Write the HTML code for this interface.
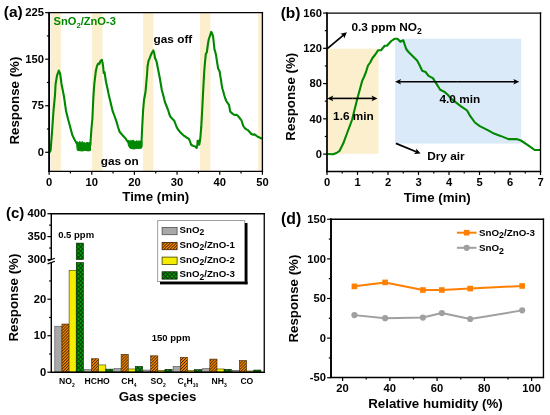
<!DOCTYPE html>
<html><head><meta charset="utf-8"><style>
html,body{margin:0;padding:0;background:#fff;}
svg{display:block;font-family:"Liberation Sans", sans-serif;will-change:transform;}
</style></head><body>
<svg width="550" height="415" viewBox="0 0 550 415">
<rect width="550" height="415" fill="#fff"/>
<rect x="50.90" y="12.60" width="10.20" height="158.75" fill="#fcefce" />
<rect x="92.10" y="12.60" width="10.40" height="158.75" fill="#fcefce" />
<rect x="143.10" y="12.60" width="10.20" height="158.75" fill="#fcefce" />
<rect x="199.90" y="12.60" width="10.50" height="158.75" fill="#fcefce" />
<rect x="258.20" y="12.60" width="3.80" height="158.75" fill="#fcefce" />
<polyline points="49.60,152.20 50.60,150.50 51.90,134.00 53.50,110.70 55.00,95.00 55.60,84.00 57.00,75.70 58.80,70.60 60.20,74.00 61.50,84.00 63.90,96.00 66.00,110.70 68.00,119.00 70.00,126.30 72.30,135.00 74.50,139.50 76.40,143.00" fill="none" stroke="#008800" stroke-width="2.1" stroke-linejoin="round" stroke-linecap="round" />
<polygon points="76.60,143.00 77.30,141.60 78.00,143.00 79.00,142.60 79.80,141.20 80.60,142.80 81.60,142.20 82.40,141.50 83.30,142.90 84.50,142.40 85.70,143.20 87.00,142.50 88.50,142.80 90.50,142.00 90.50,150.60 88.00,150.90 85.00,150.40 82.00,151.00 79.00,150.60 77.20,150.20" fill="#008800" stroke="#008800" stroke-width="1" stroke-linejoin="round"/>
<polyline points="90.50,145.00 90.60,140.50 91.50,128.00 92.40,118.50 93.00,105.00 93.50,95.00 94.30,84.00 95.80,71.30 97.00,66.00 98.20,63.50 99.30,64.00 100.50,61.00 101.80,59.80 102.60,63.00 103.20,67.00 103.70,73.00 104.50,72.00 106.00,82.00 107.60,89.00 108.80,95.00 110.50,102.00 112.50,110.70 114.50,116.00 116.50,121.60 118.00,127.00 119.60,131.80 121.50,134.00 123.50,136.20 125.50,138.40 127.50,141.50" fill="none" stroke="#008800" stroke-width="2.1" stroke-linejoin="round" stroke-linecap="round" />
<polygon points="127.60,141.00 128.30,140.20 129.30,141.00 130.20,140.30 131.00,141.20 132.00,140.60 133.20,140.00 134.20,141.20 135.50,141.50 136.60,140.80 137.80,141.30 139.00,140.90 140.40,141.20 141.80,140.60 141.80,148.00 139.50,148.60 137.00,148.30 134.00,149.00 131.00,148.40 129.50,147.80 128.30,145.00" fill="#008800" stroke="#008800" stroke-width="1" stroke-linejoin="round"/>
<polyline points="141.50,146.00 141.60,140.00 142.30,125.00 143.10,110.70 144.00,100.00 145.50,92.00 147.00,75.00 147.60,66.00 148.60,60.50 149.40,59.00 150.50,56.00 151.80,53.00 153.30,50.40 154.20,53.00 155.00,58.00 156.50,61.30 158.00,69.00 159.60,77.00 160.80,84.00 161.80,90.00 163.20,95.00 164.90,102.00 166.50,106.00 168.00,109.80 169.30,114.00 170.40,116.80 172.50,119.00 174.30,120.80 175.50,124.00 176.60,127.00 178.00,129.50 179.80,131.70 181.50,133.50 183.70,135.60 185.30,136.50 186.70,137.80 188.00,138.20 189.20,139.30 190.20,142.00 191.10,144.60 192.40,145.60 193.50,146.00 195.40,146.50 196.60,148.00 197.30,145.50 197.60,140.70 198.80,140.70 199.30,144.60 200.20,139.30 201.20,127.70 202.20,110.00 203.30,88.00 204.20,72.00 205.10,61.10 205.80,53.90 206.80,52.50 207.80,45.00 208.70,39.50 210.20,35.10 211.20,31.90 212.20,33.50 213.10,36.60 213.80,43.00 214.50,49.60 215.20,51.70 216.00,55.00 216.70,59.70 217.40,64.00 218.10,68.40 219.60,71.20 220.30,76.00 221.00,79.90 221.70,85.10 222.50,89.00 223.40,91.90 224.20,95.00 225.30,98.50 226.30,101.00 227.60,103.00 229.00,104.80 229.60,108.00 230.10,111.30 231.20,112.60 232.30,113.40 233.60,114.60 235.00,115.10 236.20,114.80 237.70,115.60 238.80,117.00 239.90,118.30 240.80,119.50 241.50,120.50 242.30,123.00 243.10,125.40 244.00,127.00 244.80,128.10 246.40,129.30 248.00,130.20 249.70,132.00 251.30,134.00 252.40,134.40 253.50,134.60 254.50,134.40 255.60,135.10 256.70,136.00 257.80,136.80 259.00,137.30 260.00,137.80 261.60,138.40" fill="none" stroke="#008800" stroke-width="2.1" stroke-linejoin="round" stroke-linecap="round" />
<line x1="48.15" y1="12.60" x2="263.07" y2="12.60" stroke="#000" stroke-width="1.35"/>
<line x1="48.15" y1="171.35" x2="263.07" y2="171.35" stroke="#000" stroke-width="1.35"/>
<line x1="262.40" y1="11.92" x2="262.40" y2="172.03" stroke="#000" stroke-width="1.35"/>
<line x1="49.10" y1="11.92" x2="49.10" y2="172.03" stroke="#000" stroke-width="1.9"/>
<line x1="45.20" y1="152.30" x2="49.10" y2="152.30" stroke="#000" stroke-width="1.2"/>
<line x1="45.20" y1="105.75" x2="49.10" y2="105.75" stroke="#000" stroke-width="1.2"/>
<line x1="45.20" y1="59.20" x2="49.10" y2="59.20" stroke="#000" stroke-width="1.2"/>
<line x1="45.20" y1="12.64" x2="49.10" y2="12.64" stroke="#000" stroke-width="1.2"/>
<line x1="46.90" y1="129.02" x2="49.10" y2="129.02" stroke="#000" stroke-width="1.2"/>
<line x1="46.90" y1="82.47" x2="49.10" y2="82.47" stroke="#000" stroke-width="1.2"/>
<line x1="46.90" y1="35.92" x2="49.10" y2="35.92" stroke="#000" stroke-width="1.2"/>
<text x="44.00" y="156.00" font-size="11.2" font-weight="bold" text-anchor="end" fill="#000" >0</text>
<text x="44.00" y="109.45" font-size="11.2" font-weight="bold" text-anchor="end" fill="#000" >75</text>
<text x="44.00" y="62.90" font-size="11.2" font-weight="bold" text-anchor="end" fill="#000" >150</text>
<text x="44.00" y="16.34" font-size="11.2" font-weight="bold" text-anchor="end" fill="#000" >225</text>
<line x1="49.10" y1="171.35" x2="49.10" y2="174.85" stroke="#000" stroke-width="1.2"/>
<line x1="91.76" y1="171.35" x2="91.76" y2="174.85" stroke="#000" stroke-width="1.2"/>
<line x1="134.42" y1="171.35" x2="134.42" y2="174.85" stroke="#000" stroke-width="1.2"/>
<line x1="177.08" y1="171.35" x2="177.08" y2="174.85" stroke="#000" stroke-width="1.2"/>
<line x1="219.74" y1="171.35" x2="219.74" y2="174.85" stroke="#000" stroke-width="1.2"/>
<line x1="262.40" y1="171.35" x2="262.40" y2="174.85" stroke="#000" stroke-width="1.2"/>
<line x1="70.43" y1="171.35" x2="70.43" y2="173.45" stroke="#000" stroke-width="1.2"/>
<line x1="113.09" y1="171.35" x2="113.09" y2="173.45" stroke="#000" stroke-width="1.2"/>
<line x1="155.75" y1="171.35" x2="155.75" y2="173.45" stroke="#000" stroke-width="1.2"/>
<line x1="198.41" y1="171.35" x2="198.41" y2="173.45" stroke="#000" stroke-width="1.2"/>
<line x1="241.07" y1="171.35" x2="241.07" y2="173.45" stroke="#000" stroke-width="1.2"/>
<text x="49.10" y="186.30" font-size="11.2" font-weight="bold" text-anchor="middle" fill="#000" >0</text>
<text x="91.76" y="186.30" font-size="11.2" font-weight="bold" text-anchor="middle" fill="#000" >10</text>
<text x="134.42" y="186.30" font-size="11.2" font-weight="bold" text-anchor="middle" fill="#000" >20</text>
<text x="177.08" y="186.30" font-size="11.2" font-weight="bold" text-anchor="middle" fill="#000" >30</text>
<text x="219.74" y="186.30" font-size="11.2" font-weight="bold" text-anchor="middle" fill="#000" >40</text>
<text x="262.40" y="186.30" font-size="11.2" font-weight="bold" text-anchor="middle" fill="#000" >50</text>
<text x="53.60" y="25.40" font-size="11.1" font-weight="bold" text-anchor="start" fill="#008800" >SnO<tspan font-size="7.7" dy="2.6">2</tspan><tspan dy="-2.6">/ZnO-3</tspan></text>
<text x="153.60" y="43.00" font-size="11.8" font-weight="bold" text-anchor="start" fill="#000" >gas off</text>
<text x="100.70" y="165.00" font-size="11.8" font-weight="bold" text-anchor="start" fill="#000" >gas on</text>
<text x="3.80" y="16.90" font-size="15.5" font-weight="bold" text-anchor="start" fill="#000" >(a)</text>
<text transform="translate(18.50,100.60) rotate(-90)" x="0" y="0" font-size="13.3" font-weight="bold" text-anchor="middle">Response (%)</text>
<text x="155.80" y="201.20" font-size="13.3" font-weight="bold" text-anchor="middle" fill="#000" >Time (min)</text>
<rect x="327.50" y="48.70" width="51.00" height="105.10" fill="#fcefce" />
<rect x="395.10" y="38.70" width="126.10" height="104.90" fill="#daeaf8" />
<polyline points="327.20,154.00 333.10,154.20 336.50,153.00 339.60,150.80 341.50,147.00 343.30,143.30 347.50,132.00 352.00,120.00 354.50,110.00 357.10,99.50 359.70,90.00 362.20,80.70 364.00,77.00 366.00,72.00 368.00,65.50 370.20,62.50 372.50,58.00 375.30,54.50 378.20,50.20 381.00,50.20 384.70,45.80 386.90,45.80 391.30,41.00 394.50,38.80 397.50,38.80 400.40,41.70 403.30,40.30 406.20,49.00 408.50,52.00 411.30,54.80 414.00,57.50 417.10,60.60 419.50,65.00 422.20,70.80 425.60,72.00 428.50,75.90 432.90,78.10 436.50,83.90 438.50,87.00 440.20,89.70 444.50,91.90 447.50,94.50 451.10,98.50 455.50,102.10 461.10,106.30 467.10,110.50 470.10,115.90 474.90,122.50 479.80,126.10 488.20,130.40 494.00,133.60 500.50,135.90 508.50,139.10 516.50,139.10 520.90,140.50 528.20,145.30 534.70,150.00 539.80,150.00" fill="none" stroke="#008800" stroke-width="2.1" stroke-linejoin="round" stroke-linecap="round" />
<line x1="326.12" y1="13.05" x2="541.17" y2="13.05" stroke="#000" stroke-width="1.35"/>
<line x1="326.12" y1="171.50" x2="541.17" y2="171.50" stroke="#000" stroke-width="1.35"/>
<line x1="540.50" y1="12.38" x2="540.50" y2="172.18" stroke="#000" stroke-width="1.35"/>
<line x1="327.00" y1="12.38" x2="327.00" y2="172.18" stroke="#000" stroke-width="1.75"/>
<line x1="323.10" y1="154.10" x2="327.00" y2="154.10" stroke="#000" stroke-width="1.2"/>
<line x1="323.10" y1="118.84" x2="327.00" y2="118.84" stroke="#000" stroke-width="1.2"/>
<line x1="323.10" y1="83.57" x2="327.00" y2="83.57" stroke="#000" stroke-width="1.2"/>
<line x1="323.10" y1="48.31" x2="327.00" y2="48.31" stroke="#000" stroke-width="1.2"/>
<line x1="323.10" y1="13.04" x2="327.00" y2="13.04" stroke="#000" stroke-width="1.2"/>
<line x1="324.80" y1="136.47" x2="327.00" y2="136.47" stroke="#000" stroke-width="1.2"/>
<line x1="324.80" y1="101.20" x2="327.00" y2="101.20" stroke="#000" stroke-width="1.2"/>
<line x1="324.80" y1="65.94" x2="327.00" y2="65.94" stroke="#000" stroke-width="1.2"/>
<line x1="324.80" y1="30.68" x2="327.00" y2="30.68" stroke="#000" stroke-width="1.2"/>
<text x="321.90" y="157.80" font-size="11.2" font-weight="bold" text-anchor="end" fill="#000" >0</text>
<text x="321.90" y="122.54" font-size="11.2" font-weight="bold" text-anchor="end" fill="#000" >40</text>
<text x="321.90" y="87.27" font-size="11.2" font-weight="bold" text-anchor="end" fill="#000" >80</text>
<text x="321.90" y="52.01" font-size="11.2" font-weight="bold" text-anchor="end" fill="#000" >120</text>
<text x="321.90" y="16.74" font-size="11.2" font-weight="bold" text-anchor="end" fill="#000" >160</text>
<line x1="327.00" y1="171.50" x2="327.00" y2="175.00" stroke="#000" stroke-width="1.2"/>
<line x1="357.50" y1="171.50" x2="357.50" y2="175.00" stroke="#000" stroke-width="1.2"/>
<line x1="388.00" y1="171.50" x2="388.00" y2="175.00" stroke="#000" stroke-width="1.2"/>
<line x1="418.50" y1="171.50" x2="418.50" y2="175.00" stroke="#000" stroke-width="1.2"/>
<line x1="449.00" y1="171.50" x2="449.00" y2="175.00" stroke="#000" stroke-width="1.2"/>
<line x1="479.50" y1="171.50" x2="479.50" y2="175.00" stroke="#000" stroke-width="1.2"/>
<line x1="510.00" y1="171.50" x2="510.00" y2="175.00" stroke="#000" stroke-width="1.2"/>
<line x1="540.50" y1="171.50" x2="540.50" y2="175.00" stroke="#000" stroke-width="1.2"/>
<line x1="342.25" y1="171.50" x2="342.25" y2="173.60" stroke="#000" stroke-width="1.2"/>
<line x1="372.75" y1="171.50" x2="372.75" y2="173.60" stroke="#000" stroke-width="1.2"/>
<line x1="403.25" y1="171.50" x2="403.25" y2="173.60" stroke="#000" stroke-width="1.2"/>
<line x1="433.75" y1="171.50" x2="433.75" y2="173.60" stroke="#000" stroke-width="1.2"/>
<line x1="464.25" y1="171.50" x2="464.25" y2="173.60" stroke="#000" stroke-width="1.2"/>
<line x1="494.75" y1="171.50" x2="494.75" y2="173.60" stroke="#000" stroke-width="1.2"/>
<line x1="525.25" y1="171.50" x2="525.25" y2="173.60" stroke="#000" stroke-width="1.2"/>
<text x="327.00" y="186.30" font-size="11.2" font-weight="bold" text-anchor="middle" fill="#000" >0</text>
<text x="357.50" y="186.30" font-size="11.2" font-weight="bold" text-anchor="middle" fill="#000" >1</text>
<text x="388.00" y="186.30" font-size="11.2" font-weight="bold" text-anchor="middle" fill="#000" >2</text>
<text x="418.50" y="186.30" font-size="11.2" font-weight="bold" text-anchor="middle" fill="#000" >3</text>
<text x="449.00" y="186.30" font-size="11.2" font-weight="bold" text-anchor="middle" fill="#000" >4</text>
<text x="479.50" y="186.30" font-size="11.2" font-weight="bold" text-anchor="middle" fill="#000" >5</text>
<text x="510.00" y="186.30" font-size="11.2" font-weight="bold" text-anchor="middle" fill="#000" >6</text>
<text x="540.50" y="186.30" font-size="11.2" font-weight="bold" text-anchor="middle" fill="#000" >7</text>
<line x1="327.30" y1="48.60" x2="343.75" y2="34.92" stroke="#000" stroke-width="1.7"/>
<polygon points="346.90,32.30 344.21,38.44 343.36,35.24 340.37,33.83" fill="#000"/>
<line x1="395.90" y1="143.40" x2="416.81" y2="152.04" stroke="#000" stroke-width="1.7"/>
<polygon points="420.60,153.60 413.91,154.08 416.35,151.84 416.20,148.54" fill="#000"/>
<line x1="352.40" y1="98.40" x2="373.40" y2="98.40" stroke="#000" stroke-width="1.6"/>
<polygon points="377.50,98.40 371.50,101.20 372.90,98.40 371.50,95.60" fill="#000"/>
<line x1="352.40" y1="98.40" x2="331.40" y2="98.40" stroke="#000" stroke-width="1.6"/>
<polygon points="327.30,98.40 333.30,95.60 331.90,98.40 333.30,101.20" fill="#000"/>
<line x1="457.20" y1="81.70" x2="515.20" y2="81.70" stroke="#000" stroke-width="1.6"/>
<polygon points="519.30,81.70 513.30,84.50 514.70,81.70 513.30,78.90" fill="#000"/>
<line x1="457.20" y1="81.70" x2="399.20" y2="81.70" stroke="#000" stroke-width="1.6"/>
<polygon points="395.10,81.70 401.10,78.90 399.70,81.70 401.10,84.50" fill="#000"/>
<text x="351.40" y="30.50" font-size="11.8" font-weight="bold" text-anchor="start" fill="#000" >0.3 ppm NO<tspan font-size="8.5" dy="3.2">2</tspan></text>
<text x="333.10" y="119.90" font-size="11.8" font-weight="bold" text-anchor="start" fill="#000" >1.6 min</text>
<text x="439.50" y="102.80" font-size="11.8" font-weight="bold" text-anchor="start" fill="#000" >4.0 min</text>
<text x="427.20" y="160.10" font-size="11.8" font-weight="bold" text-anchor="start" fill="#000" >Dry air</text>
<text x="280.70" y="18.30" font-size="15.5" font-weight="bold" text-anchor="start" fill="#000" >(b)</text>
<text transform="translate(294.80,96.70) rotate(-90)" x="0" y="0" font-size="13.3" font-weight="bold" text-anchor="middle">Response (%)</text>
<text x="437.30" y="202.20" font-size="13.3" font-weight="bold" text-anchor="middle" fill="#000" >Time (min)</text>
<defs>
<pattern id="hatch" patternUnits="userSpaceOnUse" width="2.1" height="2.1" patternTransform="rotate(-45)">
<rect width="2.1" height="2.1" fill="#ff8c00"/><rect width="2.1" height="0.85" fill="#3a2200"/></pattern>
<pattern id="cross" patternUnits="userSpaceOnUse" width="3" height="3" patternTransform="rotate(45)">
<rect width="3" height="3" fill="#0a9a0a"/><rect width="3" height="0.75" fill="#002a00"/><rect width="0.75" height="3" fill="#002a00"/></pattern>
</defs>
<rect x="54.80" y="326.23" width="7.15" height="45.77" fill="#a8a8a8" stroke="#505050" stroke-width="0.6"/>
<rect x="61.95" y="324.04" width="7.15" height="47.96" fill="url(#hatch)" stroke="#402000" stroke-width="0.6"/>
<rect x="69.10" y="270.35" width="7.15" height="101.65" fill="#f6ec00" stroke="#404000" stroke-width="0.6"/>
<rect x="76.25" y="262.60" width="7.15" height="109.40" fill="url(#cross)" stroke="#002000" stroke-width="0.6"/>
<rect x="76.25" y="243.10" width="7.15" height="16.50" fill="url(#cross)" stroke="#002000" stroke-width="0.6"/>
<rect x="84.38" y="369.69" width="7.15" height="2.31" fill="#a8a8a8" stroke="#505050" stroke-width="0.6"/>
<rect x="91.53" y="358.74" width="7.15" height="13.26" fill="url(#hatch)" stroke="#402000" stroke-width="0.6"/>
<rect x="98.68" y="364.94" width="7.15" height="7.06" fill="#f6ec00" stroke="#404000" stroke-width="0.6"/>
<rect x="105.83" y="369.15" width="7.15" height="2.85" fill="url(#cross)" stroke="#002000" stroke-width="0.6"/>
<rect x="113.96" y="368.60" width="7.15" height="3.40" fill="#a8a8a8" stroke="#505050" stroke-width="0.6"/>
<rect x="121.11" y="354.35" width="7.15" height="17.65" fill="url(#hatch)" stroke="#402000" stroke-width="0.6"/>
<rect x="128.26" y="368.96" width="7.15" height="3.04" fill="#f6ec00" stroke="#404000" stroke-width="0.6"/>
<rect x="135.41" y="366.41" width="7.15" height="5.59" fill="url(#cross)" stroke="#002000" stroke-width="0.6"/>
<rect x="143.54" y="370.06" width="7.15" height="1.94" fill="#a8a8a8" stroke="#505050" stroke-width="0.6"/>
<rect x="150.69" y="355.81" width="7.15" height="16.19" fill="url(#hatch)" stroke="#402000" stroke-width="0.6"/>
<rect x="157.84" y="370.42" width="7.15" height="1.58" fill="#f6ec00" stroke="#404000" stroke-width="0.6"/>
<rect x="164.99" y="369.33" width="7.15" height="2.67" fill="url(#cross)" stroke="#002000" stroke-width="0.6"/>
<rect x="173.12" y="366.41" width="7.15" height="5.59" fill="#a8a8a8" stroke="#505050" stroke-width="0.6"/>
<rect x="180.27" y="357.27" width="7.15" height="14.73" fill="url(#hatch)" stroke="#402000" stroke-width="0.6"/>
<rect x="187.42" y="370.42" width="7.15" height="1.58" fill="#f6ec00" stroke="#404000" stroke-width="0.6"/>
<rect x="194.57" y="369.69" width="7.15" height="2.31" fill="url(#cross)" stroke="#002000" stroke-width="0.6"/>
<rect x="202.70" y="368.60" width="7.15" height="3.40" fill="#a8a8a8" stroke="#505050" stroke-width="0.6"/>
<rect x="209.85" y="359.10" width="7.15" height="12.90" fill="url(#hatch)" stroke="#402000" stroke-width="0.6"/>
<rect x="217.00" y="368.96" width="7.15" height="3.04" fill="#f6ec00" stroke="#404000" stroke-width="0.6"/>
<rect x="224.15" y="369.33" width="7.15" height="2.67" fill="url(#cross)" stroke="#002000" stroke-width="0.6"/>
<rect x="232.28" y="370.42" width="7.15" height="1.58" fill="#a8a8a8" stroke="#505050" stroke-width="0.6"/>
<rect x="239.43" y="360.56" width="7.15" height="11.44" fill="url(#hatch)" stroke="#402000" stroke-width="0.6"/>
<rect x="246.58" y="370.97" width="7.15" height="1.03" fill="#f6ec00" stroke="#404000" stroke-width="0.6"/>
<rect x="253.73" y="370.06" width="7.15" height="1.94" fill="url(#cross)" stroke="#002000" stroke-width="0.6"/>
<line x1="50.60" y1="213.70" x2="264.90" y2="213.70" stroke="#000" stroke-width="1.35"/>
<line x1="50.60" y1="372.25" x2="264.90" y2="372.25" stroke="#000" stroke-width="1.35"/>
<line x1="264.25" y1="213.05" x2="264.25" y2="372.90" stroke="#000" stroke-width="1.3"/>
<line x1="51.30" y1="213.05" x2="51.30" y2="259.30" stroke="#000" stroke-width="1.45"/>
<line x1="51.30" y1="262.20" x2="51.30" y2="372.90" stroke="#000" stroke-width="1.45"/>
<line x1="47.80" y1="261.00" x2="54.90" y2="258.30" stroke="#000" stroke-width="1.2"/>
<line x1="47.60" y1="263.90" x2="54.90" y2="261.20" stroke="#000" stroke-width="1.2"/>
<line x1="47.40" y1="213.70" x2="51.30" y2="213.70" stroke="#000" stroke-width="1.2"/>
<line x1="47.40" y1="236.60" x2="51.30" y2="236.60" stroke="#000" stroke-width="1.2"/>
<line x1="47.40" y1="259.50" x2="51.30" y2="259.50" stroke="#000" stroke-width="1.2"/>
<line x1="49.10" y1="225.15" x2="51.30" y2="225.15" stroke="#000" stroke-width="1.2"/>
<line x1="49.10" y1="248.05" x2="51.30" y2="248.05" stroke="#000" stroke-width="1.2"/>
<text x="46.20" y="217.40" font-size="11.2" font-weight="bold" text-anchor="end" fill="#000" >400</text>
<text x="46.20" y="240.30" font-size="11.2" font-weight="bold" text-anchor="end" fill="#000" >350</text>
<text x="46.20" y="263.20" font-size="11.2" font-weight="bold" text-anchor="end" fill="#000" >300</text>
<line x1="47.40" y1="372.25" x2="51.30" y2="372.25" stroke="#000" stroke-width="1.2"/>
<line x1="47.40" y1="335.73" x2="51.30" y2="335.73" stroke="#000" stroke-width="1.2"/>
<line x1="47.40" y1="299.20" x2="51.30" y2="299.20" stroke="#000" stroke-width="1.2"/>
<line x1="49.10" y1="353.99" x2="51.30" y2="353.99" stroke="#000" stroke-width="1.2"/>
<line x1="49.10" y1="317.46" x2="51.30" y2="317.46" stroke="#000" stroke-width="1.2"/>
<line x1="49.10" y1="280.94" x2="51.30" y2="280.94" stroke="#000" stroke-width="1.2"/>
<text x="46.20" y="375.95" font-size="11.2" font-weight="bold" text-anchor="end" fill="#000" >0</text>
<text x="46.20" y="339.43" font-size="11.2" font-weight="bold" text-anchor="end" fill="#000" >10</text>
<text x="46.20" y="302.90" font-size="11.2" font-weight="bold" text-anchor="end" fill="#000" >20</text>
<text x="59.10" y="384.30" font-size="8.6" font-weight="bold" text-anchor="start" fill="#000" >NO<tspan font-size="5" dy="2.4">2</tspan></text>
<text x="84.50" y="384.30" font-size="8.6" font-weight="bold" text-anchor="start" fill="#000" >HCHO</text>
<text x="121.30" y="384.30" font-size="8.6" font-weight="bold" text-anchor="start" fill="#000" >CH<tspan font-size="5" dy="2.4">4</tspan></text>
<text x="150.50" y="384.30" font-size="8.6" font-weight="bold" text-anchor="start" fill="#000" >SO<tspan font-size="5" dy="2.4">2</tspan></text>
<text x="177.50" y="384.30" font-size="8.6" font-weight="bold" text-anchor="start" fill="#000" >C<tspan font-size="5" dy="2.4">6</tspan><tspan dy="-2.4">H</tspan><tspan font-size="5" dy="2.4">10</tspan></text>
<text x="211.60" y="384.30" font-size="8.6" font-weight="bold" text-anchor="start" fill="#000" >NH<tspan font-size="5" dy="2.4">3</tspan></text>
<text x="240.40" y="384.30" font-size="8.6" font-weight="bold" text-anchor="start" fill="#000" >CO</text>
<text x="58.20" y="237.70" font-size="9.5" font-weight="bold" text-anchor="start" fill="#000" >0.5 ppm</text>
<text x="151.80" y="341.00" font-size="9.5" font-weight="bold" text-anchor="start" fill="#000" >150 ppm</text>
<rect x="157.7" y="220.6" width="87" height="61" fill="#fff" stroke="#888" stroke-width="0.8"/>
<rect x="244.90" y="223.00" width="2.60" height="61.20" fill="#000" />
<rect x="160.00" y="281.80" width="87.50" height="2.60" fill="#000" />
<rect x="162.10" y="227.40" width="15.00" height="7.30" fill="#a8a8a8" stroke="#505050" stroke-width="0.8"/>
<text x="179.60" y="233.00" font-size="9.7" font-weight="bold" text-anchor="start" fill="#000" >SnO<tspan font-size="8.5" dy="2.2">2</tspan></text>
<rect x="162.10" y="242.40" width="15.00" height="7.30" fill="url(#hatch)" stroke="#402000" stroke-width="0.8"/>
<text x="179.60" y="248.00" font-size="9.7" font-weight="bold" text-anchor="start" fill="#000" >SnO<tspan font-size="8.5" dy="2.2">2</tspan><tspan dy="-2.2">/ZnO-1</tspan></text>
<rect x="162.10" y="257.10" width="15.00" height="7.30" fill="#f6ec00" stroke="#404000" stroke-width="0.8"/>
<text x="179.60" y="262.70" font-size="9.7" font-weight="bold" text-anchor="start" fill="#000" >SnO<tspan font-size="8.5" dy="2.2">2</tspan><tspan dy="-2.2">/ZnO-2</tspan></text>
<rect x="162.10" y="271.80" width="15.00" height="7.30" fill="url(#cross)" stroke="#002000" stroke-width="0.8"/>
<text x="179.60" y="277.40" font-size="9.7" font-weight="bold" text-anchor="start" fill="#000" >SnO<tspan font-size="8.5" dy="2.2">2</tspan><tspan dy="-2.2">/ZnO-3</tspan></text>
<text x="5.90" y="218.40" font-size="15" font-weight="bold" text-anchor="start" fill="#000" >(c)</text>
<text transform="translate(18.30,297.60) rotate(-90)" x="0" y="0" font-size="13.3" font-weight="bold" text-anchor="middle">Response (%)</text>
<text x="157.50" y="401.40" font-size="13.3" font-weight="bold" text-anchor="middle" fill="#000" >Gas species</text>
<polyline points="354.41,315.12 385.12,318.21 422.93,317.58 441.83,312.98 470.18,319.01 522.15,310.37" fill="none" stroke="#a0a0a0" stroke-width="2.0" stroke-linejoin="round" stroke-linecap="round" />
<circle cx="354.41" cy="315.12" r="3.1" fill="#a0a0a0"/>
<circle cx="385.12" cy="318.21" r="3.1" fill="#a0a0a0"/>
<circle cx="422.93" cy="317.58" r="3.1" fill="#a0a0a0"/>
<circle cx="441.83" cy="312.98" r="3.1" fill="#a0a0a0"/>
<circle cx="470.18" cy="319.01" r="3.1" fill="#a0a0a0"/>
<circle cx="522.15" cy="310.37" r="3.1" fill="#a0a0a0"/>
<polyline points="354.41,286.36 385.12,282.40 422.93,290.01 441.83,290.01 470.18,288.58 522.15,285.97" fill="none" stroke="#ff7f00" stroke-width="2.0" stroke-linejoin="round" stroke-linecap="round" />
<rect x="351.61" y="283.56" width="5.60" height="5.60" fill="#ff7f00" />
<rect x="382.32" y="279.60" width="5.60" height="5.60" fill="#ff7f00" />
<rect x="420.12" y="287.21" width="5.60" height="5.60" fill="#ff7f00" />
<rect x="439.03" y="287.21" width="5.60" height="5.60" fill="#ff7f00" />
<rect x="467.38" y="285.78" width="5.60" height="5.60" fill="#ff7f00" />
<rect x="519.35" y="283.17" width="5.60" height="5.60" fill="#ff7f00" />
<line x1="330.05" y1="219.25" x2="544.12" y2="219.25" stroke="#000" stroke-width="1.35"/>
<line x1="330.05" y1="377.45" x2="544.12" y2="377.45" stroke="#000" stroke-width="1.35"/>
<line x1="543.45" y1="218.57" x2="543.45" y2="378.12" stroke="#000" stroke-width="1.35"/>
<line x1="331.00" y1="218.57" x2="331.00" y2="378.12" stroke="#000" stroke-width="1.9"/>
<line x1="327.10" y1="377.72" x2="331.00" y2="377.72" stroke="#000" stroke-width="1.2"/>
<line x1="327.10" y1="338.10" x2="331.00" y2="338.10" stroke="#000" stroke-width="1.2"/>
<line x1="327.10" y1="298.49" x2="331.00" y2="298.49" stroke="#000" stroke-width="1.2"/>
<line x1="327.10" y1="258.87" x2="331.00" y2="258.87" stroke="#000" stroke-width="1.2"/>
<line x1="327.10" y1="219.26" x2="331.00" y2="219.26" stroke="#000" stroke-width="1.2"/>
<line x1="328.80" y1="357.91" x2="331.00" y2="357.91" stroke="#000" stroke-width="1.2"/>
<line x1="328.80" y1="318.29" x2="331.00" y2="318.29" stroke="#000" stroke-width="1.2"/>
<line x1="328.80" y1="278.68" x2="331.00" y2="278.68" stroke="#000" stroke-width="1.2"/>
<line x1="328.80" y1="239.06" x2="331.00" y2="239.06" stroke="#000" stroke-width="1.2"/>
<text x="325.90" y="381.42" font-size="11.2" font-weight="bold" text-anchor="end" fill="#000" >-50</text>
<text x="325.90" y="341.80" font-size="11.2" font-weight="bold" text-anchor="end" fill="#000" >0</text>
<text x="325.90" y="302.19" font-size="11.2" font-weight="bold" text-anchor="end" fill="#000" >50</text>
<text x="325.90" y="262.57" font-size="11.2" font-weight="bold" text-anchor="end" fill="#000" >100</text>
<text x="325.90" y="222.96" font-size="11.2" font-weight="bold" text-anchor="end" fill="#000" >150</text>
<line x1="342.60" y1="377.45" x2="342.60" y2="380.95" stroke="#000" stroke-width="1.2"/>
<line x1="389.85" y1="377.45" x2="389.85" y2="380.95" stroke="#000" stroke-width="1.2"/>
<line x1="437.10" y1="377.45" x2="437.10" y2="380.95" stroke="#000" stroke-width="1.2"/>
<line x1="484.35" y1="377.45" x2="484.35" y2="380.95" stroke="#000" stroke-width="1.2"/>
<line x1="531.60" y1="377.45" x2="531.60" y2="380.95" stroke="#000" stroke-width="1.2"/>
<line x1="366.23" y1="377.45" x2="366.23" y2="379.55" stroke="#000" stroke-width="1.2"/>
<line x1="413.48" y1="377.45" x2="413.48" y2="379.55" stroke="#000" stroke-width="1.2"/>
<line x1="460.73" y1="377.45" x2="460.73" y2="379.55" stroke="#000" stroke-width="1.2"/>
<line x1="507.98" y1="377.45" x2="507.98" y2="379.55" stroke="#000" stroke-width="1.2"/>
<text x="342.60" y="392.30" font-size="11.2" font-weight="bold" text-anchor="middle" fill="#000" >20</text>
<text x="389.85" y="392.30" font-size="11.2" font-weight="bold" text-anchor="middle" fill="#000" >40</text>
<text x="437.10" y="392.30" font-size="11.2" font-weight="bold" text-anchor="middle" fill="#000" >60</text>
<text x="484.35" y="392.30" font-size="11.2" font-weight="bold" text-anchor="middle" fill="#000" >80</text>
<text x="531.60" y="392.30" font-size="11.2" font-weight="bold" text-anchor="middle" fill="#000" >100</text>
<line x1="456.90" y1="232.70" x2="476.50" y2="232.70" stroke="#ff7f00" stroke-width="2.0"/>
<rect x="463.90" y="229.90" width="5.60" height="5.60" fill="#ff7f00" />
<line x1="456.90" y1="247.80" x2="476.50" y2="247.80" stroke="#a0a0a0" stroke-width="2.0"/>
<circle cx="466.7" cy="247.8" r="3.1" fill="#a0a0a0"/>
<text x="478.90" y="235.60" font-size="9.8" font-weight="bold" text-anchor="start" fill="#000" >SnO<tspan font-size="8.8" dy="2.7">2</tspan><tspan dy="-2.7">/ZnO-3</tspan></text>
<text x="478.90" y="251.10" font-size="9.8" font-weight="bold" text-anchor="start" fill="#000" >SnO<tspan font-size="8.8" dy="2.7">2</tspan></text>
<text x="281.00" y="224.20" font-size="15.8" font-weight="bold" text-anchor="start" fill="#000" >(d)</text>
<text transform="translate(297.70,298.60) rotate(-90)" x="0" y="0" font-size="13.3" font-weight="bold" text-anchor="middle">Response (%)</text>
<text x="435.50" y="408.30" font-size="13.3" font-weight="bold" text-anchor="middle" fill="#000" >Relative humidity (%)</text>
</svg></body></html>
